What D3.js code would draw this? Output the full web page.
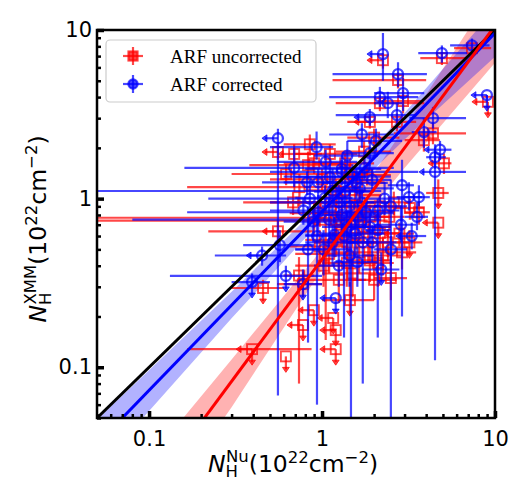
<!DOCTYPE html>
<html>
<head>
<meta charset="utf-8">
<script src="https://cdn.jsdelivr.net/npm/d3@7"></script>
<style>
  body { margin: 0; background: #fff; }
</style>
</head>
<body>
<svg id="chart" width="532" height="500"></svg>
<script>
// ---- data ----
const xDomain = [0.05, 10];
const yDomain = [0.05, 10];
const majorTicks = [0.1, 1, 10];
const minorTicks = [0.05, 0.06, 0.07, 0.08, 0.09, 0.2, 0.3, 0.4, 0.5, 0.6, 0.7, 0.8, 0.9, 2, 3, 4, 5, 6, 7, 8, 9];
const tickLabels = ["0.1", "1", "10"];

// fit lines, given at the two ends of the x range
const fitX = [0.05, 10];
const oneToOne = [0.05, 10];
const blueFit = [0.035, 9.6];
const redFit = [0.0069, 10.6];

// confidence bands
const bandX = [0.05, 0.1, 0.3, 1, 3, 10];
const blueBandLo = [0.025, 0.055, 0.195, 0.75, 2.24, 6.95];
const blueBandHi = [0.049, 0.096, 0.28, 0.94, 3.22, 13.3];
const redBandLo = [0.0035, 0.0114, 0.058, 0.38, 1.52, 6.4];
const redBandHi = [0.013, 0.0285, 0.111, 0.5, 2.63, 17.6];

// rows: [x, y, xlo, xhi, ylo, yhi, upper limit flags]
const corrected = [
  [2.25, 7.2, 2.25, 2.25, 5.0, 9.6, "x"],
  [4.93, 7.3, 3.6, 6.9, 6.4, 8.1, ""],
  [7.36, 8.1, 5.5, 9.3, 7.4, 8.9, ""],
  [2.75, 5.47, 1.15, 4.04, 4.58, 6.44, ""],
  [8.98, 4.11, 8.98, 8.98, 3.9, 4.11, "xy"],
  [2.16, 4.0, 1.1, 3.6, 3.5, 4.6, ""],
  [2.94, 4.22, 2.0, 3.9, 3.3, 5.2, ""],
  [2.4, 3.68, 2.0, 2.9, 3.0, 4.3, ""],
  [1.89, 3.04, 1.89, 1.89, 2.7, 3.4, "x"],
  [2.71, 3.13, 1.2, 3.5, 2.6, 3.7, ""],
  [4.38, 3.0, 3.2, 6.8, 2.6, 3.5, ""],
  [3.88, 2.48, 3.3, 4.6, 2.0, 3.0, ""],
  [4.81, 1.95, 4.81, 5.6, 1.7, 2.2, "x"],
  [4.5, 1.76, 4.0, 5.2, 1.5, 2.1, ""],
  [4.5, 1.44, 4.5, 6.8, 0.11, 1.9, "x"],
  [2.86, 0.70, 2.0, 3.5, 0.55, 0.9, ""],
  [3.18, 1.02, 2.7, 3.8, 0.85, 1.25, ""],
  [3.63, 1.02, 3.0, 4.2, 0.9, 1.2, ""],
  [3.54, 0.78, 3.0, 4.1, 0.65, 0.95, ""],
  [2.5, 0.9, 2.0, 3.1, 0.01, 1.3, ""],
  [2.9, 1.2, 2.4, 3.4, 0.2, 1.7, ""],
  [0.556, 2.28, 0.556, 0.556, 0.068, 2.6, "x"],
  [0.93, 2.02, 0.5, 1.16, 1.7, 2.5, ""],
  [0.69, 1.52, 0.16, 1.2, 1.17, 2.0, ""],
  [1.15, 1.11, 0.01, 2.2, 0.8, 1.5, ""],
  [0.85, 1.0, 0.22, 1.6, 0.8, 1.3, ""],
  [0.95, 0.83, 0.166, 1.7, 0.6, 1.05, ""],
  [1.1, 0.75, 0.08, 2.2, 0.5, 1.0, ""],
  [0.45, 0.46, 0.24, 0.62, 0.4, 0.52, "x"],
  [0.394, 0.32, 0.3, 0.5, 0.32, 0.36, "y"],
  [0.618, 0.348, 0.132, 1.0, 0.348, 0.4, "y"],
  [0.776, 0.311, 0.6, 1.0, 0.311, 0.38, "y"],
  [1.2, 0.257, 1.2, 1.2, 0.257, 0.257, "xy"],
  [0.83, 0.5, 0.7, 1.0, 0.14, 0.9, ""],
  [0.935, 0.6, 0.8, 1.1, 0.06, 0.8, ""],
  [1.34, 0.6, 1.1, 1.6, 0.15, 0.8, ""],
  [1.47, 0.7, 1.2, 1.8, 0.01, 0.95, ""],
  [1.72, 0.55, 1.4, 2.0, 0.08, 0.75, ""],
  [2.1, 0.65, 1.8, 2.5, 0.15, 0.85, ""],
  [1.3, 1.44, 0.5, 3.6, 1.2, 1.7, ""],
  [0.95, 1.25, 0.6, 1.5, 1.0, 1.5, ""],
  [0.82, 1.25, 0.45, 1.3, 1.05, 1.45, ""],
  [1.11, 1.34, 0.7, 1.8, 1.1, 1.6, ""],
  [1.36, 1.1, 0.9, 2.0, 0.9, 1.3, ""],
  [1.58, 1.24, 1.0, 2.4, 1.0, 1.5, ""],
  [1.76, 1.52, 1.2, 2.6, 1.3, 1.8, ""],
  [1.89, 1.86, 1.3, 2.6, 1.55, 2.2, ""],
  [1.95, 1.29, 1.5, 2.5, 1.1, 1.5, ""],
  [1.44, 0.9, 1.0, 2.1, 0.7, 1.1, ""],
  [1.61, 0.78, 1.2, 2.2, 0.6, 0.95, ""],
  [2.1, 0.85, 1.6, 2.8, 0.7, 1.0, ""],
  [1.89, 0.68, 1.4, 2.5, 0.55, 0.82, ""],
  [1.39, 0.68, 1.0, 1.9, 0.5, 0.85, ""],
  [1.18, 0.61, 0.8, 1.7, 0.45, 0.78, ""],
  [0.89, 0.73, 0.6, 1.3, 0.55, 0.9, ""],
  [0.78, 0.85, 0.5, 1.2, 0.7, 1.0, ""],
  [1.04, 1.01, 0.7, 1.5, 0.85, 1.2, ""],
  [0.57, 0.53, 0.35, 0.9, 0.42, 0.65, ""],
  [1.02, 0.5, 0.7, 1.5, 0.35, 0.65, ""],
  [1.44, 0.46, 1.0, 2.0, 0.3, 0.6, ""],
  [2.5, 0.5, 2.0, 3.1, 0.4, 0.6, ""],
  [1.3, 1.5, 0.8, 2.2, 1.25, 1.8, ""],
  [1.5, 1.35, 0.6, 2.5, 1.1, 1.6, ""],
  [1.65, 1.15, 1.1, 2.6, 0.95, 1.4, ""],
  [1.25, 0.95, 0.5, 2.0, 0.75, 1.2, ""],
  [1.7, 0.95, 1.2, 2.4, 0.8, 1.15, ""],
  [1.55, 0.62, 1.0, 2.3, 0.45, 0.8, ""],
  [1.3, 0.8, 0.9, 2.0, 0.6, 1.0, ""],
  [1.8, 0.82, 1.3, 2.6, 0.68, 1.0, ""],
  [2.3, 1.0, 1.7, 3.0, 0.8, 1.25, ""],
  [1.15, 0.55, 0.8, 1.6, 0.4, 0.7, ""],
  [1.95, 0.55, 1.4, 2.7, 0.42, 0.7, ""],
  [1.4, 1.8, 0.9, 2.1, 1.5, 2.2, ""],
  [1.05, 1.65, 0.55, 1.6, 1.4, 1.95, ""],
  [2.05, 2.2, 1.4, 2.9, 1.9, 2.6, ""],
  [1.7, 2.4, 1.1, 2.6, 2.0, 2.8, ""],
  [1.25, 0.4, 0.9, 1.7, 0.3, 0.5, ""],
  [1.6, 0.42, 1.2, 2.1, 0.3, 0.52, ""],
  [2.2, 0.38, 1.7, 2.8, 0.38, 0.48, "y"],
  [3.3, 0.6, 3.3, 4.0, 0.5, 0.72, "x"]
];

const uncorrected = [
  [2.25, 6.62, 2.25, 2.25, 5.9, 7.3, "x"],
  [4.93, 6.81, 3.7, 6.8, 6.2, 7.4, ""],
  [7.36, 7.8, 5.8, 9.5, 7.3, 8.4, ""],
  [2.75, 5.05, 1.15, 4.0, 4.5, 5.6, ""],
  [9.1, 3.75, 9.1, 9.1, 3.75, 3.75, "xy"],
  [2.16, 3.68, 1.2, 3.9, 3.3, 4.1, ""],
  [2.94, 3.79, 2.1, 3.8, 3.2, 4.4, ""],
  [1.89, 2.85, 1.89, 1.89, 2.6, 3.1, "x"],
  [2.71, 2.85, 1.4, 3.5, 2.5, 3.2, ""],
  [4.38, 2.44, 2.6, 6.8, 2.1, 2.8, ""],
  [3.88, 2.22, 3.0, 4.8, 1.9, 2.6, ""],
  [5.07, 1.62, 5.07, 5.6, 1.4, 1.85, "x"],
  [4.7, 1.08, 4.0, 5.4, 1.08, 1.3, "y"],
  [4.7, 0.72, 4.7, 4.7, 0.72, 0.72, "xy"],
  [3.22, 0.88, 2.6, 3.9, 0.75, 1.0, ""],
  [3.63, 0.83, 3.0, 4.2, 0.7, 0.95, ""],
  [0.556, 1.89, 0.556, 0.556, 1.7, 2.1, "x"],
  [0.556, 0.64, 0.22, 0.9, 0.55, 0.75, "x"],
  [0.74, 1.17, 0.166, 1.5, 0.9, 1.4, ""],
  [0.9, 0.77, 0.01, 1.8, 0.6, 0.95, ""],
  [1.2, 0.74, 0.01, 2.4, 0.55, 0.95, ""],
  [0.83, 1.58, 0.38, 1.5, 1.3, 1.9, ""],
  [0.394, 0.128, 0.166, 0.87, 0.128, 0.128, "xy"],
  [0.618, 0.116, 0.618, 0.618, 0.116, 0.116, "y"],
  [0.456, 0.295, 0.3, 0.6, 0.295, 0.33, "y"],
  [0.897, 0.218, 0.897, 0.897, 0.218, 0.218, "xy"],
  [0.776, 0.178, 0.776, 0.776, 0.178, 0.178, "xy"],
  [0.736, 0.35, 0.6, 0.9, 0.08, 0.45, ""],
  [1.16, 0.196, 1.16, 1.16, 0.196, 0.196, "xy"],
  [1.2, 0.166, 1.2, 1.2, 0.166, 0.166, "xy"],
  [1.2, 0.128, 1.2, 1.2, 0.128, 0.128, "xy"],
  [2.1, 0.415, 1.6, 2.6, 0.3, 0.55, ""],
  [2.5, 0.338, 2.0, 3.1, 0.25, 0.45, ""],
  [2.9, 0.48, 2.2, 3.5, 0.38, 0.6, ""],
  [0.776, 0.311, 0.55, 1.0, 0.26, 0.37, ""],
  [1.05, 0.95, 0.7, 1.5, 0.145, 1.2, ""],
  [0.85, 2.1, 0.6, 1.2, 1.8, 2.4, ""],
  [0.9, 1.62, 0.6, 1.3, 1.4, 1.85, ""],
  [0.69, 1.84, 0.69, 1.0, 1.6, 2.1, "x"],
  [1.11, 1.84, 0.7, 1.6, 1.6, 2.1, ""],
  [1.36, 1.62, 0.9, 2.0, 1.4, 1.85, ""],
  [1.44, 1.41, 1.0, 2.0, 1.2, 1.6, ""],
  [1.82, 1.38, 1.3, 2.5, 1.2, 1.6, ""],
  [1.2, 1.12, 0.8, 1.8, 0.95, 1.3, ""],
  [1.55, 1.05, 1.1, 2.2, 0.9, 1.2, ""],
  [2.16, 0.9, 1.6, 2.9, 0.75, 1.05, ""],
  [1.89, 0.78, 1.4, 2.5, 0.65, 0.92, ""],
  [1.48, 0.83, 1.0, 2.1, 0.7, 0.98, ""],
  [1.2, 0.75, 0.85, 1.7, 0.62, 0.9, ""],
  [0.97, 0.82, 0.65, 1.4, 0.68, 0.98, ""],
  [2.45, 0.78, 2.45, 3.0, 0.65, 0.92, "x"],
  [2.16, 0.625, 1.6, 2.8, 0.5, 0.75, ""],
  [1.58, 0.625, 1.1, 2.2, 0.5, 0.75, ""],
  [1.2, 0.57, 0.8, 1.7, 0.45, 0.7, ""],
  [0.97, 0.52, 0.65, 1.4, 0.4, 0.65, ""],
  [1.64, 0.48, 1.2, 2.2, 0.36, 0.6, ""],
  [1.39, 0.415, 1.0, 1.9, 0.3, 0.55, ""],
  [1.89, 0.43, 1.4, 2.5, 0.32, 0.55, ""],
  [1.02, 0.4, 0.7, 1.5, 0.3, 0.52, ""],
  [2.25, 0.46, 1.7, 2.9, 0.35, 0.58, ""],
  [1.3, 0.7, 0.9, 1.9, 0.55, 0.85, ""],
  [1.75, 0.68, 1.2, 2.5, 0.55, 0.82, ""],
  [1.4, 0.55, 0.9, 2.1, 0.42, 0.68, ""],
  [1.85, 0.55, 1.3, 2.6, 0.42, 0.68, ""],
  [2.4, 0.55, 1.8, 3.2, 0.45, 0.66, ""],
  [1.1, 0.47, 0.7, 1.6, 0.36, 0.58, ""],
  [1.5, 0.36, 1.0, 2.2, 0.26, 0.46, ""],
  [2.0, 0.33, 1.5, 2.7, 0.25, 0.42, ""],
  [1.25, 0.33, 0.8, 1.8, 0.24, 0.42, ""],
  [1.65, 0.9, 1.1, 2.4, 0.75, 1.05, ""],
  [1.3, 0.95, 0.5, 2.0, 0.8, 1.1, ""],
  [2.6, 0.95, 1.9, 3.3, 0.8, 1.1, ""],
  [1.0, 1.3, 0.5, 1.6, 1.1, 1.5, ""],
  [1.6, 1.25, 1.1, 2.3, 1.05, 1.45, ""],
  [1.75, 1.9, 1.2, 2.5, 1.6, 2.2, ""],
  [2.0, 2.3, 1.4, 2.8, 2.0, 2.6, ""],
  [0.62, 1.4, 0.3, 1.0, 1.2, 1.6, ""],
  [0.68, 0.95, 0.35, 1.1, 0.8, 1.1, ""],
  [1.45, 0.25, 1.0, 2.0, 0.25, 0.32, "y"],
  [2.8, 0.62, 2.8, 3.4, 0.52, 0.72, "x"],
  [3.2, 0.55, 2.7, 3.8, 0.55, 0.65, "y"]
];

const legendLabels = ["ARF uncorrected", "ARF corrected"];

// ---- layout ----
const margin = { left: 97, top: 30, right: 37, bottom: 82 };
const W = 532, H = 500;
const svg = d3.select("#chart");

const x = d3.scaleLog().domain(xDomain).range([margin.left, W - margin.right]);
const y = d3.scaleLog().domain(yDomain).range([H - margin.bottom, margin.top]);

const red = "#ff0000", blue = "#0000ff";

svg.append("defs").append("clipPath").attr("id", "clip")
  .append("rect")
  .attr("x", x.range()[0]).attr("y", y.range()[1])
  .attr("width", x.range()[1] - x.range()[0])
  .attr("height", y.range()[0] - y.range()[1]);

const plot = svg.append("g").attr("clip-path", "url(#clip)");

// bands
let band = (lo, hi, color) => {
  const rows = bandX.map((v, i) => [v, lo[i], hi[i]]);
  plot.append("path")
    .datum(rows)
    .attr("d", d3.area().x(d => x(d[0])).y0(d => y(d[1])).y1(d => y(d[2])))
    .attr("fill", color)
    .attr("fill-opacity", 0.3);
};
band(redBandLo, redBandHi, red);
band(blueBandLo, blueBandHi, blue);

// error bars with upper limit arrows
let drawSeries = (rows, color, shape) => {
  const g = plot.append("g")
    .attr("stroke", color)
    .attr("stroke-opacity", 0.72)
    .attr("fill", "none")
    .attr("stroke-width", 2.2);
  const arrowLen = 13;
  rows.forEach(r => {
    const [vx, vy, xlo, xhi, ylo, yhi, ul] = r;
    const cx = x(vx), cy = y(vy);
    if (xlo < xhi) {
      g.append("line").attr("x1", x(xlo)).attr("x2", x(xhi)).attr("y1", cy).attr("y2", cy);
    }
    if (ylo < yhi) {
      g.append("line").attr("x1", cx).attr("x2", cx).attr("y1", y(ylo)).attr("y2", y(yhi));
    }
    if (ul.includes("x")) {
      g.append("line").attr("x1", cx).attr("x2", cx - arrowLen).attr("y1", cy).attr("y2", cy);
      g.append("path")
        .attr("d", `M${cx - arrowLen - 3},${cy} l5,-3.4 l0,6.8 z`)
        .attr("fill", color).attr("fill-opacity", 0.72).attr("stroke-width", 1);
    }
    if (ul.includes("y")) {
      g.append("line").attr("x1", cx).attr("x2", cx).attr("y1", cy).attr("y2", cy + arrowLen);
      g.append("path")
        .attr("d", `M${cx},${cy + arrowLen + 3} l-3.4,-5 l6.8,0 z`)
        .attr("fill", color).attr("fill-opacity", 0.72).attr("stroke-width", 1);
    }
    if (shape === "square") {
      g.append("rect").attr("x", cx - 5).attr("y", cy - 5)
        .attr("width", 10).attr("height", 10).attr("stroke-width", 1.9);
    } else {
      g.append("circle").attr("cx", cx).attr("cy", cy).attr("r", 5).attr("stroke-width", 2.3);
    }
  });
};
drawSeries(uncorrected, red, "square");
drawSeries(corrected, blue, "circle");

// lines
let fitLine = (ys, color, w) => {
  plot.append("path")
    .datum(fitX.map((v, i) => [v, ys[i]]))
    .attr("d", d3.line().x(d => x(d[0])).y(d => y(d[1])))
    .attr("stroke", color).attr("stroke-width", w).attr("fill", "none");
};
fitLine(oneToOne, "#000", 3);
fitLine(blueFit, blue, 3);
fitLine(redFit, red, 3);

// axes (ticks inward)
let fmt = d => tickLabels[majorTicks.indexOf(d)];
const xAxisG = svg.append("g").attr("transform", `translate(0,${y.range()[0]})`);
xAxisG.call(d3.axisBottom(x).tickValues(minorTicks).tickSize(-4).tickFormat(""));
xAxisG.call(g => g.selectAll("line").attr("stroke-width", 2.5));
const xMajor = svg.append("g").attr("transform", `translate(0,${y.range()[0]})`)
  .call(d3.axisBottom(x).tickValues(majorTicks).tickSize(-7).tickPadding(13).tickFormat(fmt));
xMajor.selectAll("line").attr("stroke-width", 3.5);

const yAxisG = svg.append("g").attr("transform", `translate(${x.range()[0]},0)`);
yAxisG.call(d3.axisLeft(y).tickValues(minorTicks).tickSize(-4).tickFormat(""));
yAxisG.call(g => g.selectAll("line").attr("stroke-width", 2.5));
const yMajor = svg.append("g").attr("transform", `translate(${x.range()[0]},0)`)
  .call(d3.axisLeft(y).tickValues(majorTicks).tickSize(-7).tickPadding(5).tickFormat(fmt));
yMajor.selectAll("line").attr("stroke-width", 3.5);

svg.selectAll(".domain").remove();
svg.selectAll(".tick text")
  .attr("font-family", "DejaVu Sans").attr("font-size", 21).attr("fill", "#000");

// frame
svg.append("rect")
  .attr("x", x.range()[0]).attr("y", y.range()[1])
  .attr("width", x.range()[1] - x.range()[0])
  .attr("height", y.range()[0] - y.range()[1])
  .attr("fill", "none").attr("stroke", "#000").attr("stroke-width", 2.5);

// axis labels
let axisLabel = (g, detector, back) => {
  const t = g.append("text").attr("font-family", "DejaVu Sans")
    .attr("font-size", 23.5).attr("fill", "#000").attr("text-anchor", "middle");
  t.append("tspan").attr("font-style", "italic").text("N");
  t.append("tspan").attr("font-size", 16.5).attr("dy", 5).text("H");
  t.append("tspan").attr("font-size", 16.5).attr("dx", back).attr("dy", -15).text(detector);
  t.append("tspan").attr("dy", 10).text("(10");
  t.append("tspan").attr("font-size", 16.5).attr("dy", -9).text("22");
  t.append("tspan").attr("dy", 9).text("cm");
  t.append("tspan").attr("font-size", 16.5).attr("dy", -9).text("\u22122");
  t.append("tspan").attr("dy", 9).text(")");
  return t;
};
axisLabel(svg.append("g").attr("transform", "translate(293,472)"), "Nu", -12);
axisLabel(svg.append("g").attr("transform", "translate(46,229) rotate(-90)"), "XMM", -12);

// legend
const leg = svg.append("g");
leg.append("rect").attr("x", 106).attr("y", 40).attr("width", 210).attr("height", 62)
  .attr("rx", 4).attr("fill", "#fff").attr("fill-opacity", 0.8)
  .attr("stroke", "#ccc").attr("stroke-width", 1.2);
[[red, "square"], [blue, "circle"]].forEach(([c, s], i) => {
  const cy = 56 + i * 28, cx = 133;
  const g = leg.append("g").attr("stroke", c).attr("stroke-opacity", 0.72).attr("stroke-width", 2.2);
  g.append("line").attr("x1", cx - 10).attr("x2", cx + 10).attr("y1", cy).attr("y2", cy);
  g.append("line").attr("x1", cx).attr("x2", cx).attr("y1", cy - 9).attr("y2", cy + 9);
  if (s === "square") {
    g.append("rect").attr("x", cx - 4.5).attr("y", cy - 4.5).attr("width", 9).attr("height", 9)
      .attr("fill", c).attr("fill-opacity", 0.72);
  } else {
    g.append("circle").attr("cx", cx).attr("cy", cy).attr("r", 4.6).attr("fill", c).attr("fill-opacity", 0.72);
  }
  leg.append("text").attr("x", 170).attr("y", cy + 6.5)
    .style("font-family", "'Liberation Serif', serif").attr("font-size", 19).attr("fill", "#000")
    .text(legendLabels[i]);
});
</script>
</body>
</html>
